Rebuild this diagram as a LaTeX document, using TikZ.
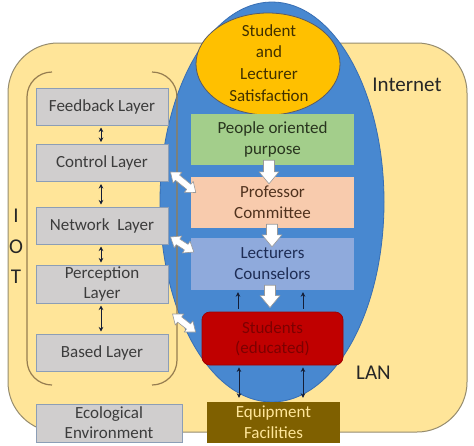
\documentclass[tikz,border=0pt]{standalone}
\usepackage{fontspec}
\setmainfont{Carlito}
\usetikzlibrary{calc,arrows.meta}
\definecolor{yel}{RGB}{255,229,153}
\definecolor{yelb}{RGB}{150,140,110}
\definecolor{blu}{RGB}{72,136,208}
\definecolor{blub}{RGB}{55,110,180}
\definecolor{org}{RGB}{255,192,0}
\definecolor{orgb}{RGB}{90,90,100}
\definecolor{grn}{RGB}{163,206,139}
\definecolor{pch}{RGB}{248,203,173}
\definecolor{lav}{RGB}{143,170,220}
\definecolor{redb}{RGB}{192,0,0}
\definecolor{brn}{RGB}{127,96,0}
\definecolor{gfill}{RGB}{208,206,206}
\definecolor{gline}{RGB}{140,158,182}
\definecolor{brk}{RGB}{150,125,80}
\definecolor{gtxt}{RGB}{60,60,60}
\definecolor{arrc}{RGB}{20,30,55}
\newcommand\wdouble[2]{%
 \filldraw[wblk] (#1) -- ($(#1)!9pt!(#2)!7pt!90:(#2)$) -- ($(#1)!9pt!(#2)!3.3pt!90:(#2)$)
  -- ($(#2)!9pt!(#1)!3.3pt!-90:(#1)$) -- ($(#2)!9pt!(#1)!7pt!-90:(#1)$) -- (#2)
  -- ($(#2)!9pt!(#1)!7pt!90:(#1)$) -- ($(#2)!9pt!(#1)!3.3pt!90:(#1)$)
  -- ($(#1)!9pt!(#2)!3.3pt!-90:(#2)$) -- ($(#1)!9pt!(#2)!7pt!-90:(#2)$) -- cycle;}
\newcommand\wsingle[2]{%
 \filldraw[wblk] ($(#1)!5.5pt!90:(#2)$) -- ($(#2)!12pt!(#1)!5.5pt!-90:(#1)$)
  -- ($(#2)!12pt!(#1)!10pt!-90:(#1)$) -- (#2) -- ($(#2)!12pt!(#1)!10pt!90:(#1)$)
  -- ($(#2)!12pt!(#1)!5.5pt!90:(#1)$) -- ($(#1)!5.5pt!-90:(#2)$) -- cycle;}
\begin{document}
\begin{tikzpicture}[x=1pt,y=-1pt,
  gbox/.style={draw=gline, line width=1pt, fill=gfill, text=gtxt, minimum width=132, minimum height=37, inner sep=0pt, align=center, font=\fontsize{17}{20}\selectfont},
  cbox/.style={minimum width=163, minimum height=51, inner sep=0pt, align=center, font=\fontsize{17}{21}\selectfont},
  bigt/.style={text=black!85, inner sep=0pt, font=\fontsize{21}{24}\selectfont},
  wblk/.style={draw=black!40, fill=white, line width=0.6pt, line join=round},
  blk/.style={draw=arrc, line width=0.8pt, >={Stealth[length=4.5pt,width=4.5pt]}}]
\useasboundingbox (0,0) rectangle (474,445);
\fill[white] (0,0) rectangle (474,445);
% outer yellow
\draw[draw=yelb, fill=yel, line width=1pt, rounded corners=50pt] (8,43) rectangle (467,432);
% blue ellipse
\draw[draw=blub, fill=blu, line width=0.8pt] (272,202) ellipse [x radius=112, y radius=200];
% bracket
\draw[brk, line width=1.2pt, rounded corners=25pt] (52,72) -- (27,72) -- (27,385) -- (52,385);
\draw[brk, line width=1.2pt, rounded corners=25pt] (152,72) -- (177,72) -- (177,385) -- (152,385);
% satisfaction ellipse
\draw[draw=orgb, fill=org, line width=0.8pt] (268,64) ellipse [x radius=72, y radius=51];
\node[inner sep=0pt, align=center, text={rgb,255:red,64;green,48;blue,0}, font=\fontsize{17}{21.7}\selectfont] (sat) at (269,63) {Student\\and\\Lecturer\\Satisfaction};
% coloured boxes
\node[cbox, fill=grn, text={rgb,255:red,40;green,52;blue,30}] (pop) at (272.5,139.5) {People oriented\\purpose};
\node[cbox, fill=pch, text={rgb,255:red,80;green,50;blue,30}] (prof) at (272.5,202.5) {Professor\\Committee};
\node[cbox, fill=lav, minimum height=52, text={rgb,255:red,30;green,45;blue,85}] (lec) at (272.5,264) {Lecturers\\Counselors};
\node[cbox, fill=redb, draw={rgb,255:red,160;green,0;blue,0}, line width=0.8pt, rounded corners=8pt, minimum width=141, minimum height=53, text={rgb,255:red,125;green,0;blue,0}, font=\fontsize{17}{20}\selectfont] (stu) at (272.5,338.5) {Students\\(educated)};
\node[cbox, fill=brn, minimum width=133, minimum height=41, text={rgb,255:red,255;green,230;blue,153}] (eqp) at (273.5,422.5) {Equipment\\Facilities};
% grey layers
\node[gbox] (fb) at (102,106.5) {Feedback Layer};
\node[gbox] (ctl) at (102,163) {Control Layer};
\node[gbox] (net) at (102,225.5) {Network\ \ Layer};
\node[gbox, minimum height=38] (per) at (102,284) {Perception\\Layer};
\node[gbox] (bas) at (102,352.5) {Based Layer};
\node[gbox, minimum width=146, minimum height=38] (eco) at (109,423) {Ecological\\Environment};
% texts
\node[bigt] (inet) at (407,85) {Internet};
\node[bigt] (lan) at (373.5,373) {LAN};
\node[bigt, align=center, font=\fontsize{21}{30.5}\selectfont] (iot) at (16,246.5) {I\\O\\T};
% small layer arrows
\draw[blk, <->] ($(fb.south)+(-1,2)$) -- ($(ctl.north)+(-1,-2)$);
\draw[blk, <->] ($(ctl.south)+(-1,2)$) -- ($(net.north)+(-1,-2)$);
\draw[blk, <->] ($(net.south)+(-1,2)$) -- ($(per.north)+(-1,-2)$);
\draw[blk, <->] ($(per.south)+(-1,2)$) -- ($(bas.north)+(-1,-2)$);
% arrows lecturers -> students, students <-> equipment
\coordinate (u1a) at ($(stu.north)+(-34.5,-3)$);
\coordinate (u1b) at ($(lec.south)+(-34.5,2)$);
\coordinate (u2a) at ($(stu.north)+(30.5,-3)$);
\coordinate (u2b) at ($(lec.south)+(30.5,2)$);
\draw[blk, ->] (u1a) -- (u1b);
\draw[blk, ->] (u2a) -- (u2b);
\coordinate (e1a) at ($(stu.south)+(-33.5,2)$);
\coordinate (e1b) at ($(eqp.north)+(-34.5,-4)$);
\coordinate (e2a) at ($(stu.south)+(30.5,2)$);
\coordinate (e2b) at ($(eqp.north)+(29.5,-4)$);
\draw[blk, <->] (e1a) -- (e1b);
\draw[blk, <->] (e2a) -- (e2b);
% white down arrows
\coordinate (d1a) at ($(pop.south)+(-3.5,-5)$);
\coordinate (d1b) at ($(prof.north)+(-3.5,7)$);
\coordinate (d2a) at ($(prof.south)+(-0.5,-4)$);
\coordinate (d2b) at ($(lec.north)+(-0.5,9)$);
\coordinate (d3a) at ($(lec.south)+(-2.5,-5)$);
\coordinate (d3b) at ($(stu.north)+(-2.5,-4)$);
\wsingle{d1a}{d1b}
\wsingle{d2a}{d2b}
\wsingle{d3a}{d3b}
% white double block arrows
\coordinate (a1s) at ($(ctl.east)+(2,9)$);
\coordinate (a1e) at ($(prof.west)+(5,-10)$);
\coordinate (a2s) at ($(net.east)+(2,11.5)$);
\coordinate (a2e) at ($(lec.west)+(3,-12)$);
\coordinate (a3s) at ($(per.east)+(4,30)$);
\coordinate (a3e) at ($(stu.west)+(-6,-6.5)$);
\wdouble{a1s}{a1e}
\wdouble{a2s}{a2e}
\wdouble{a3s}{a3e}
\end{tikzpicture}
\end{document}
